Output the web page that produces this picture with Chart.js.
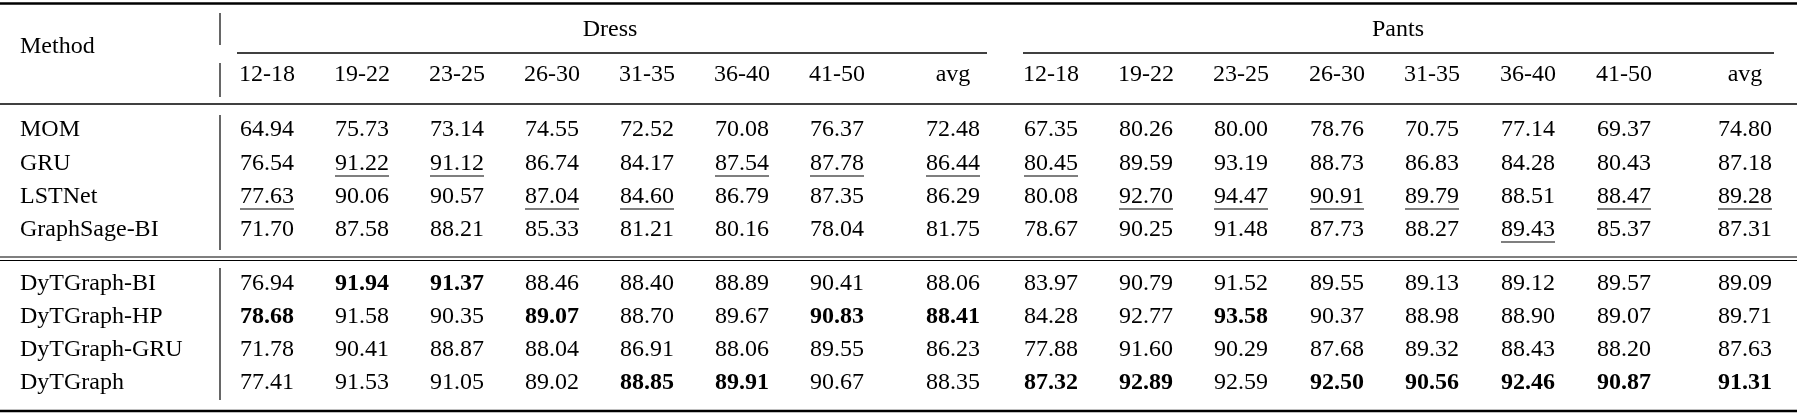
<!DOCTYPE html>
<html><head><meta charset="utf-8">
<script src="https://cdn.jsdelivr.net/npm/chart.js@4"></script>
<style>html,body{margin:0;padding:0;background:#fff}#wrap{width:1797px;height:415px}</style>
</head><body><div id="wrap"><canvas id="c"></canvas></div>
<script>
const methods = ['MOM','GRU','LSTNet','GraphSage-BI','DyTGraph-BI','DyTGraph-HP','DyTGraph-GRU','DyTGraph'];
const groups = ['Dress','Pants'];
const ageLabels = ['12-18','19-22','23-25','26-30','31-35','36-40','41-50','avg'];
const dressValues = [
  [64.94,75.73,73.14,74.55,72.52,70.08,76.37,72.48],
  [76.54,91.22,91.12,86.74,84.17,87.54,87.78,86.44],
  [77.63,90.06,90.57,87.04,84.60,86.79,87.35,86.29],
  [71.70,87.58,88.21,85.33,81.21,80.16,78.04,81.75],
  [76.94,91.94,91.37,88.46,88.40,88.89,90.41,88.06],
  [78.68,91.58,90.35,89.07,88.70,89.67,90.83,88.41],
  [71.78,90.41,88.87,88.04,86.91,88.06,89.55,86.23],
  [77.41,91.53,91.05,89.02,88.85,89.91,90.67,88.35]
];
const pantsValues = [
  [67.35,80.26,80.00,78.76,70.75,77.14,69.37,74.80],
  [80.45,89.59,93.19,88.73,86.83,84.28,80.43,87.18],
  [80.08,92.70,94.47,90.91,89.79,88.51,88.47,89.28],
  [78.67,90.25,91.48,87.73,88.27,89.43,85.37,87.31],
  [83.97,90.79,91.52,89.55,89.13,89.12,89.57,89.09],
  [84.28,92.77,93.58,90.37,88.98,88.90,89.07,89.71],
  [77.88,91.60,90.29,87.68,89.32,88.43,88.20,87.63],
  [87.32,92.89,92.59,92.50,90.56,92.46,90.87,91.31]
];
const baselineCount = 4;

// layout (drawing only)
const colX = [267,362,457,552,647,742,837,953, 1051,1146,1241,1337,1432,1528,1624,1745];
const rowY = [130,164,197,230,284,317,350,383];
const FONT = '"Liberation Serif", serif';
const FS = 24;

const tablePlugin = {
  id:'table',
  afterDraw(chart){
    const ctx = chart.ctx, xs = chart.scales.x, ys = chart.scales.y;
    const X = v=>xs.getPixelForValue(v), Y = v=>ys.getPixelForValue(v);
    ctx.save();
    ctx.fillStyle='#000'; ctx.strokeStyle='#000';
    const hline=(x1,x2,y,w)=>{ctx.lineWidth=w;ctx.beginPath();ctx.moveTo(X(x1),Y(y));ctx.lineTo(X(x2),Y(y));ctx.stroke();};
    const vline=(x,y1,y2)=>{ctx.lineWidth=1.2;ctx.beginPath();ctx.moveTo(X(x),Y(y1));ctx.lineTo(X(x),Y(y2));ctx.stroke();};
    hline(0,1797,3.5,2.5);
    hline(0,1797,104,1.3);
    hline(0,1797,257,1.1); hline(0,1797,260.5,1.1);
    hline(0,1797,411,2.5);
    vline(220,13,45); vline(220,63,97); vline(220,115,250); vline(220,268,400);
    hline(237,987,53,1.3); hline(1023,1774,53,1.3);
    ctx.textBaseline='middle';
    const text=(s,x,y,align,bold)=>{ctx.font=(bold?'bold ':'')+FS+'px '+FONT;ctx.textAlign=align;ctx.fillText(s,X(x),Y(y));};
    text('Method',20,47,'left');
    text(groups[0],(colX[0]+colX[7])/2,30,'center');
    text(groups[1],(colX[8]+colX[15])/2,30,'center');
    for(let g=0;g<2;g++) ageLabels.forEach((a,i)=>text(a,colX[g*8+i],75,'center'));
    const all=[dressValues,pantsValues];
    methods.forEach((m,r)=>text(m,20,rowY[r],'left'));
    for(let g=0;g<2;g++){
      const vals=all[g];
      for(let c=0;c<8;c++){
        const base=vals.slice(0,baselineCount).map(r=>r[c]);
        const ours=vals.slice(baselineCount).map(r=>r[c]);
        const bmax=Math.max(...base), omax=Math.max(...ours);
        for(let r=0;r<methods.length;r++){
          const v=vals[r][c], s=v.toFixed(2);
          const bold = r>=baselineCount && v===omax;
          const under = r<baselineCount && v===bmax;
          const x=colX[g*8+c], y=rowY[r];
          text(s,x,y,'center',bold);
          if(under){
            const w=ctx.measureText(s).width;
            ctx.lineWidth=1.2;ctx.beginPath();
            ctx.moveTo(X(x)-w/2,Y(y+12));ctx.lineTo(X(x)+w/2,Y(y+12));ctx.stroke();
          }
        }
      }
    }
    ctx.restore();
  }
};

new Chart(document.getElementById('c'),{
  type:'scatter',
  data:{datasets:[{data:[],pointRadius:0}]},
  options:{
    responsive:true,maintainAspectRatio:false,animation:false,
    layout:{padding:0},
    plugins:{legend:{display:false},tooltip:{enabled:false}},
    scales:{
      x:{type:'linear',min:0,max:1797,display:false},
      y:{type:'linear',min:0,max:415,reverse:true,display:false}
    }
  },
  plugins:[tablePlugin]
});
</script></body></html>
